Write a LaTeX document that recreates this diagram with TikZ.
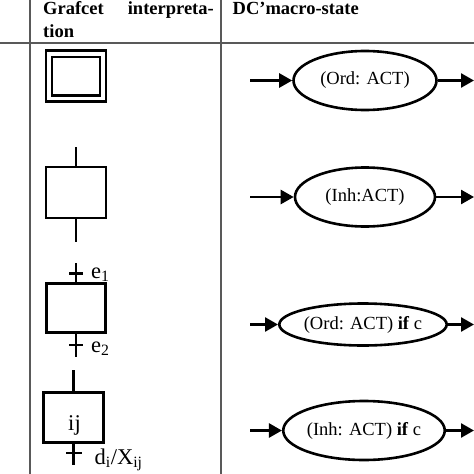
\documentclass[tikz,border=0pt]{standalone}
\usepackage{fontspec}
\setmainfont{Liberation Serif}
\usetikzlibrary{arrows.meta,shapes.geometric}
\tikzset{
  grid/.style={draw=black!65, line width=1.3pt},
  stepbox/.style={draw, line width=2.6pt, minimum width=#1, inner sep=0pt, rectangle},
  link/.style={line width=2.6pt},
  macro/.style={draw, ellipse, line width=2.6pt, inner sep=0pt, font=\fontsize{18.5}{20}\selectfont},
  flow/.style={line width=2.6pt, -{Triangle[length=13pt,width=14pt]}},
  hdr/.style={font=\fontsize{18.5}{21}\selectfont\bfseries, inner sep=0pt},
  lbl/.style={font=\fontsize{22.5}{24}\selectfont, inner sep=0pt},
}
\begin{document}
\begin{tikzpicture}[x=1pt,y=-1pt]
\useasboundingbox (0,0) rectangle (474,474);
% table grid
\coordinate (v1t) at (30,0); \coordinate (v1b) at (30,474);
\coordinate (v2t) at (221,0); \coordinate (v2b) at (221,474);
\coordinate (hl) at (0,43); \coordinate (hr) at (474,43);
\draw[grid] (v1t) -- (v1b);
\draw[grid] (v2t) -- (v2b);
\draw[grid] (hl) -- (hr);
% header
\node[hdr, anchor=base west] (h1) at (43,14) {Grafcet};
\node[hdr, anchor=base east] (h2) at (214,14) {interpreta-};
\node[hdr, anchor=base west] (h3) at (43,37) {tion};
\node[hdr, anchor=base west] (h4) at (232.5,14) {DC’macro-state};

% row 1: initial step
\node[stepbox=60pt, minimum height=51pt] (s1o) at (76,76.2) {};
\node[stepbox=47.7pt, minimum height=38.6pt] (s1i) at (76,76.2) {};

% row 2
\node[stepbox=60pt, minimum height=51pt] (s2) at (76,192.5) {};
\coordinate (s2t) at (76,147);
\coordinate (s2b) at (76,242);
\draw[link] (s2t) -- (s2.north);
\draw[link] (s2.south) -- (s2b);

% row 3
\node[stepbox=59pt, minimum height=49.4pt] (s3) at (76,308) {};
\coordinate (s3t) at (76,263);
\coordinate (s3b) at (76,357);
\coordinate (c3a) at (69,273.3); \coordinate (c3b) at (83,273.3);
\coordinate (c3c) at (69,345); \coordinate (c3d) at (83,345);
\draw[link] (s3t) -- (s3.north);
\draw[link] (s3.south) -- (s3b);
\draw[link] (c3a) -- (c3b);
\draw[link] (c3c) -- (c3d);
\node[lbl, anchor=base west] (e1) at (91,278) {e\textsubscript{1}};
\node[lbl, anchor=base west] (e2) at (91,352) {e\textsubscript{2}};

% row 4
\node[stepbox=60pt, minimum height=50.4pt] (s4) at (73.3,417.5) {};
\node[lbl, anchor=base] (ij) at (74.5,430) {ij};
\coordinate (s4t) at (73.3,370);
\coordinate (s4b) at (73.3,465);
\coordinate (c4a) at (66,453); \coordinate (c4b) at (81.5,453);
\draw[link] (s4t) -- (s4.north);
\draw[link] (s4.south) -- (s4b);
\draw[link] (c4a) -- (c4b);
\node[lbl, anchor=base west] (d) at (94.5,464) {d\textsubscript{i}/X\textsubscript{ij}};

% macro-states
\node[macro, minimum width=143pt, minimum height=59pt] (m1) at (365,80.5) {(Ord: ACT)};
\node[macro, minimum width=140pt, minimum height=59pt] (m2) at (365,197) {(Inh:ACT)};
\node[macro, minimum width=140pt, minimum height=42pt] (m3) at (363,324.5) {(Ord: ACT) \textbf{if} c};
\node[macro, minimum width=142pt, minimum height=59pt] (m4) at (364,430.5) {(Inh: ACT) \textbf{if} c};

\foreach \m/\y in {m1/80.5,m2/197,m3/324.5,m4/430.5}{
  \coordinate (\m i) at (250,\y);
  \coordinate (\m o) at (474,\y);
  \draw[flow] (\m i) -- (\m.west);
  \draw[flow] (\m.east) -- (\m o);
}
\end{tikzpicture}
\end{document}
